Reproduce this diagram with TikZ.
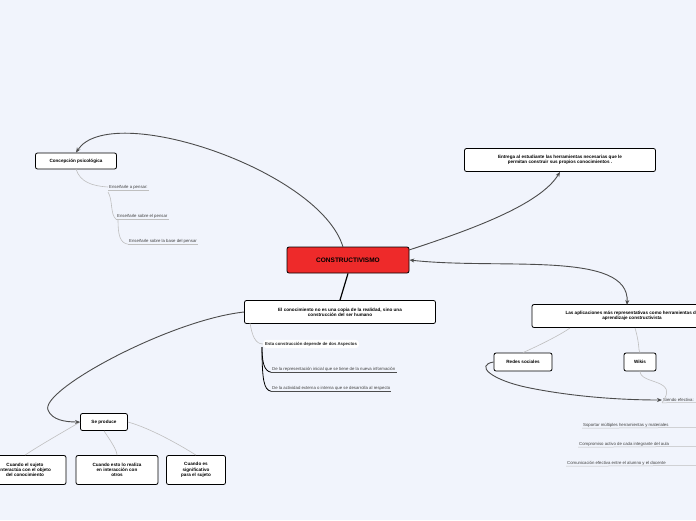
\documentclass[tikz,border=0pt]{standalone}
\usepackage{fontspec}
\setmainfont{Liberation Sans}
\usetikzlibrary{arrows.meta}
\definecolor{bg}{HTML}{F1F4FC}
\definecolor{red1}{HTML}{EE2A2A}
\tikzset{
 box/.style={draw=black,rounded corners=2pt,fill=white,line width=0.8pt,font=\fontsize{4.6}{5.2}\selectfont\bfseries,align=center,inner sep=2pt},
 leaf/.style={anchor=west,font=\fontsize{4.3}{5}\selectfont,text=black!75,inner sep=1pt},
 conn/.style={draw=black!70,line width=0.9pt},
 thin/.style={draw=black!25,line width=0.6pt},
 ul/.style={draw=black!25,line width=0.5pt},
 tip/.style={-{Stealth[length=5pt,width=4pt]}}
}
\begin{document}
\begin{tikzpicture}[x=1pt,y=-1pt]
\fill[bg] (0,0) rectangle (696,520);
\clip (0,0) rectangle (696,520);
\useasboundingbox (0,0) rectangle (696,520);
% main
\node[box,fill=red1,minimum width=122pt,minimum height=26pt,font=\fontsize{6.5}{7}\selectfont\bfseries] (c) at (348,260) {CONSTRUCTIVISMO};
\node[box,minimum width=81pt,minimum height=16pt] (cp) at (76,161) {Concepción psicológica};
\node[box,minimum width=191pt,minimum height=23pt] (en) at (560,160) {Entrega al estudiante las herramientas necesarias que le\\permitan construir sus propios conocimientos .};
\node[box,minimum width=191pt,minimum height=23pt] (ec) at (340,312) {El conocimiento no es una copia de la realidad, sino una\\construcción del ser humano};
\node[box,minimum width=200pt,minimum height=23pt] (ap) at (632,316) {Las aplicaciones más representativas como herramientas de\\aprendizaje constructivista};
\node[box,minimum width=58pt,minimum height=18pt] (rs) at (523,362) {Redes sociales};
\node[box,minimum width=32pt,minimum height=18pt] (wk) at (640,362) {Wikis};
\node[box,minimum width=47pt,minimum height=17pt] (sp) at (104,422) {Se produce};
\node[box,minimum width=82pt,minimum height=29pt] (b1) at (25,470) {Cuando el sujeto\\interactúa con el objeto\\del conocimiento};
\node[box,minimum width=82pt,minimum height=29pt] (b2) at (117,470) {Cuando esto lo realiza\\en interacción con\\otros};
\node[box,minimum width=59pt,minimum height=29pt] (b3) at (196,470) {Cuando es\\significativo\\para el sujeto};
% leaves
\node[leaf] (l1) at (108,187) {Enseñarle a pensar:};
\node[leaf] (l2) at (116,216) {Enseñarle sobre el pensar};
\node[leaf] (l3) at (128,241) {Enseñarle sobre la base del pensar};
\node[leaf,fill=white,rounded corners=3pt,inner sep=2pt,font=\fontsize{4.3}{5}\selectfont\bfseries,text=black!85] (ea) at (263,344) {Esta construcción depende de dos Aspectos};
\node[leaf] (d1) at (271,369) {De la representación inicial que se tiene de la nueva información};
\node[leaf] (d2) at (271,388) {De la actividad externa o interna que se desarrolla al respecto};
\node[leaf] (se) at (662,400) {Siendo efectiva:};
\node[leaf] (s1) at (582,425) {Soportar múltiples herramientas y materiales};
\node[leaf] (s2) at (578,444) {Compromiso activo de cada integrante del aula};
\node[leaf] (s3) at (566,463) {Comunicación efectiva entre el alumno y el docente};
% underlines
\draw[ul] (l1.south west) -- (l1.south east);
\draw[ul] (l2.south west) -- (l2.south east);
\draw[ul] (l3.south west) -- (l3.south east);
\draw[ul] (s1.south west) -- (696,427.5);
\draw[ul] (s2.south west) -- (696,446.5);
\draw[ul] (s3.south west) -- (696,465.5);
\draw[ul] (se.south west) -- (696,402.5);
\draw[black!70,line width=0.5pt] (d1.south west) -- (d1.south east);
\draw[black!70,line width=0.5pt] (d2.south west) -- (d2.south east);
% thin branches
\draw[thin] (76,169) .. controls (80,182) and (92,186) .. (l1.west);
\draw[thin] (108,192) .. controls (113,200) and (110,214) .. (l2.south west);
\draw[thin] (118,220) .. controls (118,235) and (120,243) .. (l3.south west);
\draw[thin] (250,323) .. controls (252,335) and (255,344) .. (ea.west);
\draw[black,line width=0.8pt] (262,347) .. controls (262,362) and (264,371) .. (d1.south west);
\draw[black,line width=0.8pt] (262,347) .. controls (262,380) and (264,390) .. (d2.south west);
\draw[thin] (570,328) .. controls (560,335) and (540,345) .. (rs.north);
\draw[thin] (635,328) .. controls (640,345) and (638,350) .. (wk.north);
\draw[thin] (640,371) .. controls (640,385) and (680,378) .. (se.south west);
\draw[thin] (sp.west) .. controls (70,428) and (40,445) .. (b1.north);
\draw[thin] (sp.south) .. controls (110,440) and (117,450) .. (b2.north);
\draw[thin] (sp.east) .. controls (150,428) and (180,445) .. (b3.north);
\draw[thin] (ap.east) -- (696,325);
% main connectors
\draw[conn,tip] (343,247) .. controls (320,170) and (110,100) .. (cp.north);
\draw[conn,tip] (409,250) .. controls (470,230) and (540,205) .. (en.south);
\draw[conn,{Stealth[length=5pt,width=4pt]}-{Stealth[length=5pt,width=4pt]}] (c.east) .. controls (500,270) and (630,250) .. (627,305);
\draw[black,line width=1.2pt] (c.south) -- (ec.north);
\draw[conn,tip] (ec.west) .. controls (170,320) and (40,390) .. (48,410) .. controls (52,420) and (65,422) .. (sp.west);
\draw[conn,tip] (rs.west) .. controls (475,365) and (490,380) .. (530,388) .. controls (580,398) and (630,400) .. (se.west);
\end{tikzpicture}
\end{document}
